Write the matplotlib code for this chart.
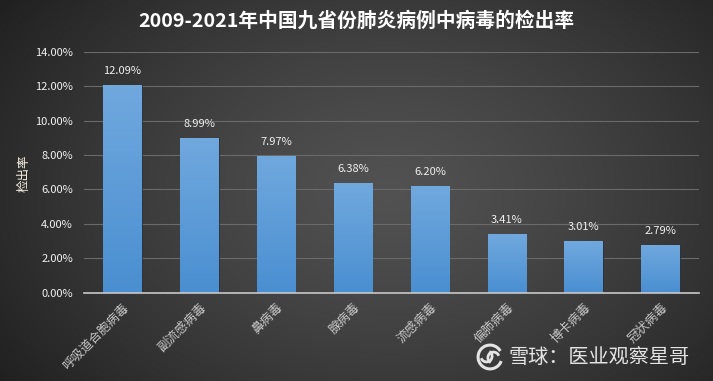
import numpy as np
import matplotlib
matplotlib.use('Agg')
import matplotlib.pyplot as plt
from matplotlib.patches import Arc
from matplotlib.ticker import FuncFormatter

plt.rcParams['font.family'] = ['Noto Sans CJK SC', 'DejaVu Sans']

viruses = ['呼吸道合胞病毒', '副流感病毒', '鼻病毒', '腺病毒', '流感病毒',
           '偏肺病毒', '博卡病毒', '冠状病毒']
rates = [12.09, 8.99, 7.97, 6.38, 6.20, 3.41, 3.01, 2.79]
title = '2009-2021年中国九省份肺炎病例中病毒的检出率'
ylabel = '检出率'
watermark = '雪球：医业观察星哥'

fig = plt.figure(figsize=(7.13, 3.81), dpi=100)

# radial background
bg = fig.add_axes([0, 0, 1, 1], zorder=-10)
yy, xx = np.mgrid[0:381, 0:713]
r = np.sqrt(((xx - 390) / 430.0) ** 2 + ((yy - 190) / 300.0) ** 2)
shade = np.clip(0.32 - 0.17 * r ** 1.3, 0.10, 0.32)
bg.imshow(np.dstack([shade, shade, shade]), aspect='auto', extent=[0, 1, 0, 1])
bg.axis('off')

ax = fig.add_axes([84 / 713, 1 - 292.7 / 381, (699 - 84) / 713, (292.7 - 51.7) / 381])
ax.set_facecolor('none')

x = np.arange(len(viruses))
bars = ax.bar(x, rates, width=0.5, color='#5b9bd5', edgecolor='#2a2a2a', linewidth=0.6, zorder=3)

# vertical gradient inside each bar
top_c = np.array([0.44, 0.66, 0.87])
bot_c = np.array([0.29, 0.56, 0.82])
for b in bars:
    g = np.linspace(1, 0, 100).reshape(-1, 1, 1)
    im_arr = top_c * g + bot_c * (1 - g)
    bx, bw, bh = b.get_x(), b.get_width(), b.get_height()
    im = ax.imshow(im_arr, extent=[bx, bx + bw, 0, bh], aspect='auto', zorder=3.5)
    im.set_clip_path(b)

for xi, v in zip(x, rates):
    ax.annotate(f'{v:.2f}%', (xi, v), xytext=(0, 10), textcoords='offset points',
                ha='center', va='center', color='#f0f0f0', fontsize=8)

ax.set_xlim(-0.5, len(viruses) - 0.5)
ax.set_ylim(0, 14)
ax.set_yticks(np.arange(0, 14.1, 2))
ax.yaxis.set_major_formatter(FuncFormatter(lambda v, p: f'{v:.2f}%'))
ax.grid(axis='y', color='#6a6a6a', linewidth=0.8, zorder=0)
ax.set_axisbelow(True)
for s in ['top', 'right', 'left']:
    ax.spines[s].set_visible(False)
ax.spines['bottom'].set_color('#c8c8c8')
ax.spines['bottom'].set_linewidth(1.2)
ax.spines['bottom'].set_zorder(4)
ax.tick_params(axis='both', length=0)
ax.tick_params(axis='y', colors='#f2f2f2', labelsize=8, pad=8)
ax.set_xticks(x)
ax.set_xticklabels(viruses, rotation=45, ha='right', va='top', rotation_mode='anchor',
                   color='#c8c8c8', fontsize=9)
ax.tick_params(axis='x', pad=6)

fig.text(24 / 713, 1 - 173 / 381, ylabel, rotation=90, ha='center', va='center',
         color='#f4efe0', fontsize=9)

fig.text(356 / 713, 1 - 21 / 381, title, ha='center', va='center', color='white',
         fontsize=14.2, fontweight='bold')

# watermark with a simple logo
fig.text(508 / 713, 1 - 357 / 381, watermark, ha='left', va='center',
         color='#e4e4e4', fontsize=14.5)
lx, ly = 490, 357
logo = fig.add_axes([(lx - 14) / 713, 1 - (ly + 14) / 381, 28 / 713, 28 / 381])
logo.set_xlim(-1, 1)
logo.set_ylim(-1, 1)
logo.set_aspect('equal')
logo.axis('off')
logo.add_patch(Arc((0, 0), 1.7, 1.7, theta1=30, theta2=340, color='#e4e4e4', lw=2.2))
logo.add_patch(Arc((-0.25, 0.05), 0.8, 0.8, theta1=200, theta2=60, color='#e4e4e4', lw=2.0))
logo.add_patch(Arc((0.25, -0.05), 0.8, 0.8, theta1=20, theta2=240, color='#e4e4e4', lw=2.0))

fig.savefig('out.png', dpi=100)
